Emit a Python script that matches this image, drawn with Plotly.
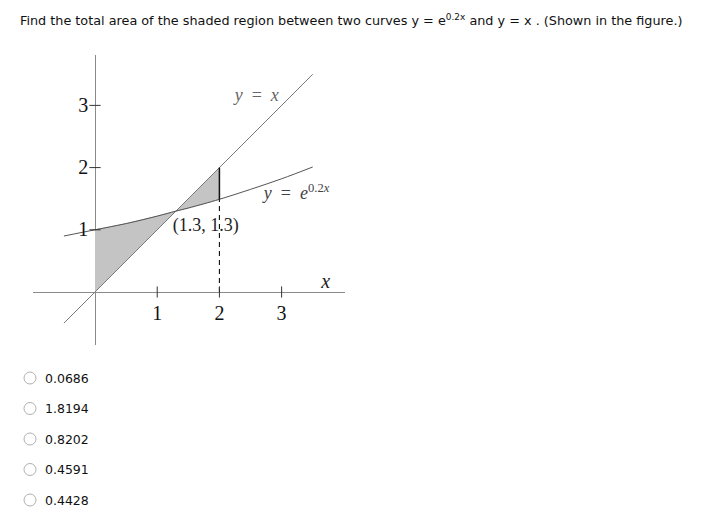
import plotly.graph_objects as go

W, H = 727, 524
OFF = 8  # the page puts the figure 8px in from the corner

question = ("Find the total area of the shaded region between two curves "
            "y = e<sup>0.2x</sup> and y = x . (Shown in the figure.)")
choices = ["0.0686", "1.8194", "0.8202", "0.4591", "0.4428"]

x_ticks = [1, 2, 3]
y_ticks = [1, 2, 3]

# y = x
line_x = [-0.5, 3.5]
line_y = [-0.5, 3.5]

# y = e^(0.2x)
curve_x = [-0.5, 0.0, 0.5, 1.0, 1.3, 1.5, 2.0, 2.5, 3.0, 3.5]
curve_y = [0.90, 1.00, 1.10, 1.22, 1.30, 1.35, 1.49, 1.65, 1.82, 2.01]

cross_x, cross_y = 1.3, 1.3
x_left, x_right = 0, 2


def px(x):
    return (x - OFF) / W


def py(y):
    return 1 - (y - OFF) / H


# shaded pieces built from the curve points
left_pts = [(x, y) for x, y in zip(curve_x, curve_y) if x_left <= x <= cross_x]
right_pts = [(x, y) for x, y in zip(curve_x, curve_y) if cross_x <= x <= x_right]
poly1_x = [x_left, cross_x] + [p[0] for p in reversed(left_pts)]
poly1_y = [x_left, cross_y] + [p[1] for p in reversed(left_pts)]
poly2_x = [p[0] for p in right_pts] + [x_right, cross_x]
poly2_y = [p[1] for p in right_pts] + [x_right, cross_y]
y_at_right = dict(zip(curve_x, curve_y))[x_right]

serif = "Liberation Serif"
sans = "DejaVu Sans"
sp = "&nbsp;&nbsp;"

fig = go.Figure()

for sx, sy in [(poly1_x, poly1_y), (poly2_x, poly2_y)]:
    fig.add_trace(go.Scatter(x=sx, y=sy, fill="toself", mode="lines",
                             fillcolor="#c4c4c4", line=dict(width=0.5, color="#9a9a9a"),
                             hoverinfo="skip"))

fig.add_trace(go.Scatter(x=line_x, y=line_y, mode="lines",
                         line=dict(color="#7a7a7a", width=1)))
fig.add_trace(go.Scatter(x=curve_x, y=curve_y, mode="lines", line_shape="spline",
                         line=dict(color="#555555", width=1)))

# x = 2 : solid between curves, dashed down to the axis
fig.add_trace(go.Scatter(x=[x_right, x_right], y=[y_at_right, x_right], mode="lines",
                         line=dict(color="#111111", width=1.5)))
fig.add_trace(go.Scatter(x=[x_right, x_right], y=[0, y_at_right], mode="lines",
                         line=dict(color="#111111", width=1.1, dash="5px,4px")))

# tick marks
fig.add_trace(go.Scatter(x=x_ticks, y=[0] * len(x_ticks), mode="markers",
                         marker=dict(symbol="line-ns", size=8,
                                     line=dict(width=1, color="#333333"))))
fig.add_trace(go.Scatter(x=[0] * len(y_ticks), y=y_ticks, mode="markers",
                         marker=dict(symbol="line-ew", size=8,
                                     line=dict(width=1, color="#333333"))))

# tick labels
fig.add_trace(go.Scatter(x=x_ticks, y=[-0.37] * len(x_ticks), mode="text",
                         text=[str(t) for t in x_ticks],
                         textfont=dict(family=serif, size=20, color="#111111")))
fig.add_trace(go.Scatter(x=[-0.19] * len(y_ticks), y=[t - 0.02 for t in y_ticks], mode="text",
                         text=[str(t) for t in y_ticks],
                         textfont=dict(family=serif, size=20, color="#111111")))

# curve labels
fig.add_trace(go.Scatter(x=[2.6], y=[3.14], mode="text",
                         text=["<i>y</i>" + sp + "=" + sp + "<i>x</i>"],
                         textfont=dict(family=serif, size=18, color="#666666")))
fig.add_trace(go.Scatter(x=[3.24], y=[1.56], mode="text",
                         text=["<i>y</i>" + sp + "=" + sp + "<i>e</i><sup>0.2<i>x</i></sup>"],
                         textfont=dict(family=serif, size=18, color="#444444")))
fig.add_trace(go.Scatter(x=[1.78], y=[1.05], mode="text",
                         text=["(%.1f, %.1f)" % (cross_x, cross_y)],
                         textfont=dict(family=serif, size=18, color="#222222")))
fig.add_trace(go.Scatter(x=[3.71], y=[0.15], mode="text", text=["<i>x</i>"],
                         textfont=dict(family=serif, size=20, color="#222222")))

fig.update_xaxes(domain=[px(33), px(345)], range=[-0.997, 4.019],
                 showgrid=False, showticklabels=False, ticks="",
                 zeroline=True, zerolinecolor="#8a8a8a", zerolinewidth=1)
fig.update_yaxes(domain=[py(345), py(55)], range=[-0.852, 3.81],
                 showgrid=False, showticklabels=False, ticks="",
                 zeroline=True, zerolinecolor="#8a8a8a", zerolinewidth=1)

annotations = [dict(text=question, x=px(18), y=py(20), xref="paper", yref="paper",
                    xanchor="left", yanchor="middle", showarrow=False,
                    font=dict(family=sans, size=12.8, color="#111111"))]
shapes = []
for i, c in enumerate(choices):
    cy = 378 + i * 30.5
    shapes.append(dict(type="circle", xref="paper", yref="paper",
                       x0=px(24), x1=px(36), y0=py(cy + 6), y1=py(cy - 6),
                       line=dict(color="#b0b0b0", width=1), fillcolor="white"))
    annotations.append(dict(text=c, x=px(43), y=py(cy), xref="paper", yref="paper",
                            xanchor="left", yanchor="middle", showarrow=False,
                            font=dict(family=sans, size=12.5, color="#111111")))

fig.update_layout(width=W, height=H, margin=dict(l=0, r=0, t=0, b=0),
                  paper_bgcolor="white", plot_bgcolor="white", showlegend=False,
                  annotations=annotations, shapes=shapes)

fig.write_html("out.html")
